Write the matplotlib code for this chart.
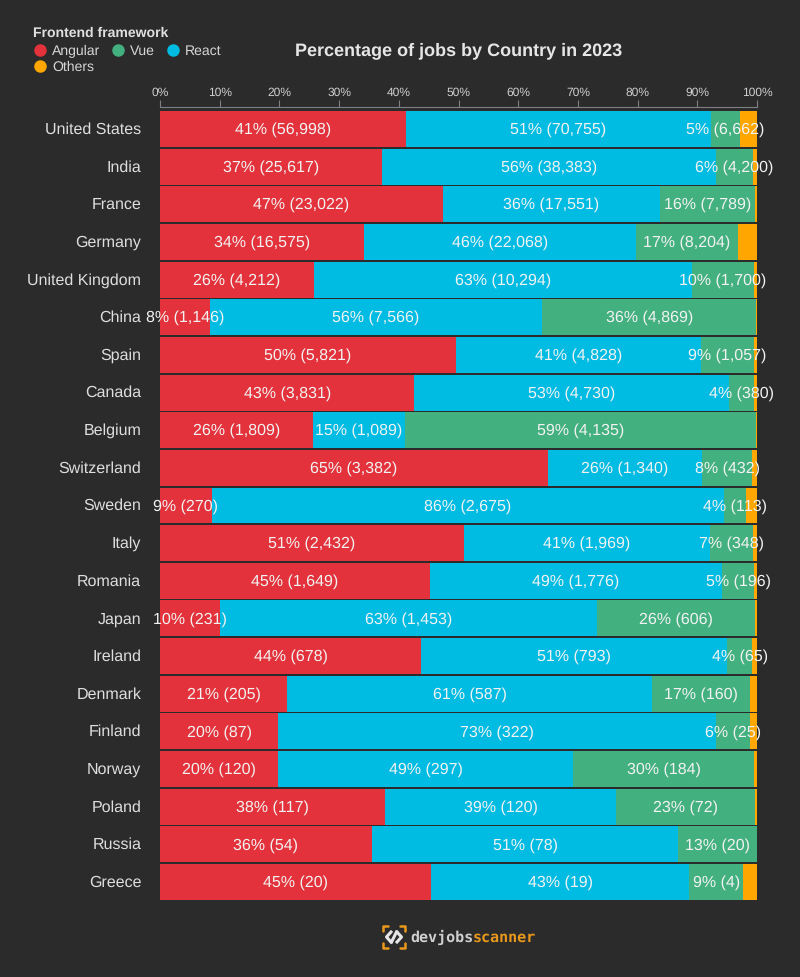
import matplotlib
matplotlib.use('Agg')
import matplotlib.pyplot as plt
from matplotlib.lines import Line2D
from matplotlib.transforms import ScaledTranslation

plt.rcParams['font.family'] = ['Liberation Sans', 'DejaVu Sans']
plt.rcParams['text.hinting'] = 'no_hinting'
plt.rcParams['text.hinting_factor'] = 1

countries = ['United States', 'India', 'France', 'Germany', 'United Kingdom', 'China', 'Spain',
             'Canada', 'Belgium', 'Switzerland', 'Sweden', 'Italy', 'Romania', 'Japan', 'Ireland',
             'Denmark', 'Finland', 'Norway', 'Poland', 'Russia', 'Greece']

# share of jobs in percent
angular = [41.2, 37.2, 47.4, 34.2, 25.8, 8.4, 49.6, 42.6, 25.7, 65.0, 8.7,
           50.9, 45.2, 10.0, 43.7, 21.3, 19.8, 19.8, 37.7, 35.5, 45.4]
react = [51.1, 56.0, 36.3, 45.5, 63.3, 55.6, 41.0, 52.7, 15.3, 25.8, 85.8,
         41.2, 49.0, 63.2, 51.3, 61.1, 73.3, 49.4, 38.7, 51.3, 43.2]
vue = [4.9, 6.1, 16.0, 17.1, 10.4, 35.9, 8.9, 4.2, 58.8, 8.4, 3.6,
       7.3, 5.3, 26.4, 4.2, 16.5, 5.8, 30.3, 23.3, 13.2, 9.1]
others = [2.8, 0.7, 0.3, 3.2, 0.5, 0.1, 0.5, 0.5, 0.2, 0.8, 1.9,
          0.6, 0.5, 0.4, 0.8, 1.1, 1.1, 0.5, 0.3, 0.0, 2.3]

# printed labels
angular_pct = [41, 37, 47, 34, 26, 8, 50, 43, 26, 65, 9, 51, 45, 10, 44, 21, 20, 20, 38, 36, 45]
angular_jobs = [56998, 25617, 23022, 16575, 4212, 1146, 5821, 3831, 1809, 3382, 270,
                2432, 1649, 231, 678, 205, 87, 120, 117, 54, 20]
react_pct = [51, 56, 36, 46, 63, 56, 41, 53, 15, 26, 86, 41, 49, 63, 51, 61, 73, 49, 39, 51, 43]
react_jobs = [70755, 38383, 17551, 22068, 10294, 7566, 4828, 4730, 1089, 1340, 2675,
              1969, 1776, 1453, 793, 587, 322, 297, 120, 78, 19]
vue_pct = [5, 6, 16, 17, 10, 36, 9, 4, 59, 8, 4, 7, 5, 26, 4, 17, 6, 30, 23, 13, 9]
vue_jobs = [6662, 4200, 7789, 8204, 1700, 4869, 1057, 380, 4135, 432, 113,
            348, 196, 606, 65, 160, 25, 184, 72, 20, 4]

bg = '#2b2b2b'
red = '#e3323b'
blue = '#00bce3'
green = '#43b07f'
orange = '#ffa600'
W, H = 800, 977

fig = plt.figure(figsize=(W / 100, H / 100), dpi=100, facecolor=bg)
ax = fig.add_axes([160 / W, 1 - 900 / H, 597 / W, 793 / H], facecolor=bg)

y = list(range(len(countries)))
left = [0] * len(countries)
series = [(angular, red, angular_pct, angular_jobs), (react, blue, react_pct, react_jobs),
          (vue, green, vue_pct, vue_jobs), (others, orange, None, None)]
for vals, col, pct, jobs in series:
    ax.barh(y, vals, left=left, height=0.955, color=col, linewidth=0)
    if pct is not None:
        for i in y:
            ax.text(left[i] + vals[i] / 2, i + 0.02, f'{pct[i]}% ({jobs[i]:,})', ha='center', va='center',
                    color='#f2f2f2', fontsize=11.5, zorder=5, clip_on=False)
    left = [a + b for a, b in zip(left, vals)]

ax.set_xlim(0, 100)
ax.set_ylim(20.478, -0.584)
for s in ['right', 'bottom', 'left']:
    ax.spines[s].set_visible(False)
ax.spines['top'].set_color('#7f7f86')
ax.xaxis.tick_top()
ax.set_xticks(range(0, 101, 10))
ax.set_xticklabels([f'{v}%' for v in range(0, 101, 10)])
ax.tick_params(axis='x', length=5, color='#7f7f86', labelcolor='#cfcfcf', labelsize=8.5, pad=1.5)
ax.set_yticks(y)
ax.set_yticklabels(countries)
ax.tick_params(axis='y', length=0, labelcolor='#dedede', labelsize=11.7, pad=13.5)
# country names sit a pixel higher than the bar centres
for lbl in ax.get_yticklabels():
    lbl.set_transform(lbl.get_transform() + ScaledTranslation(0, 1 / 100, fig.dpi_scale_trans))

fig.text(459 / W, 1 - 51 / H, 'Percentage of jobs by Country in 2023', ha='center', va='center',
         color='#e6e6e6', fontsize=13.3, fontweight='bold')

# handle order fills the columns so Others ends up under Angular
handles = [Line2D([], [], ls='', marker='o', ms=8, color=c, label=n) for c, n in
           [(red, 'Angular'), (orange, 'Others'), (green, 'Vue'), (blue, 'React')]]
leg = fig.legend(handles=handles, ncol=3, loc='upper left', bbox_to_anchor=(29 / W, 1 - 22 / H),
                 title='Frontend framework', frameon=False, alignment='left', fontsize=10.3,
                 labelcolor='#d6d6d6', handlelength=0.9, handletextpad=0.4, columnspacing=0.8,
                 labelspacing=0.2, title_fontproperties={'weight': 'bold', 'size': 9.8},
                 borderpad=0.3, borderaxespad=0)
leg.get_title().set_color('#e0e0e0')
leg._legend_box.sep = 4

# logo
logo = fig.add_axes([0, 0, 1, 1], facecolor='none')
logo.set_xlim(0, W)
logo.set_ylim(H, 0)
logo.axis('off')
for sx in (-1, 1):
    for sy in (-1, 1):
        logo.plot([394 + sx * 11, 394 + sx * 11, 394 + sx * 6], [937 + sy * 6, 937 + sy * 11, 937 + sy * 11],
                  color='#e8991c', lw=1.8, solid_capstyle='round')
    logo.plot([394 + sx * 3, 394 + sx * 7.5, 394 + sx * 3], [932, 937, 942], color='#e6e6e6', lw=2.2)
logo.plot([391.5, 396.5], [942, 932], color='#e6e6e6', lw=2.2)
logo.text(410.5, 937.5, 'devjobs', family='DejaVu Sans Mono', fontweight='bold', fontsize=10.9,
          color='#cfcfcf', ha='left', va='center')
logo.text(473, 937.5, 'scanner', family='DejaVu Sans Mono', fontweight='bold', fontsize=10.9,
          color='#e8991c', ha='left', va='center')

fig.savefig('out.png', dpi=100, facecolor=bg)
